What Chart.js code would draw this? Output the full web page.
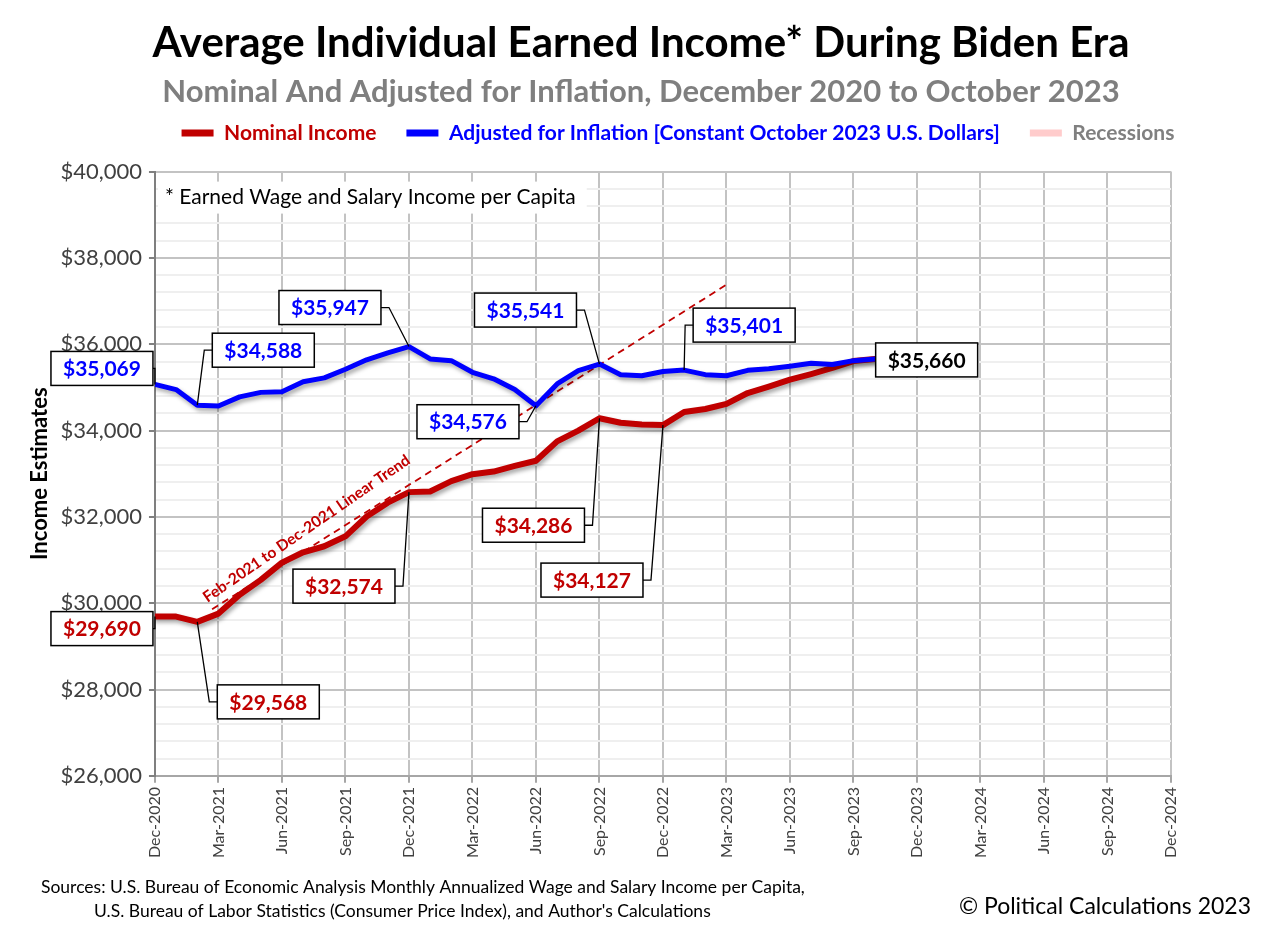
<!DOCTYPE html>
<html>
<head>
<meta charset="utf-8">
<script src="https://cdn.jsdelivr.net/npm/chart.js@4.4.0/dist/chart.umd.min.js"></script>
<style>
  html, body { margin: 0; padding: 0; background: #fff; }
</style>
</head>
<body>
<canvas id="chart" width="1280" height="930"></canvas>
<script>
// monthly data, Dec-2020 .. Oct-2023 (x = month index from Dec-2020)
const months = ['Dec-2020', 'Jan-2021', 'Feb-2021', 'Mar-2021', 'Apr-2021', 'May-2021', 'Jun-2021',
  'Jul-2021', 'Aug-2021', 'Sep-2021', 'Oct-2021', 'Nov-2021', 'Dec-2021', 'Jan-2022', 'Feb-2022',
  'Mar-2022', 'Apr-2022', 'May-2022', 'Jun-2022', 'Jul-2022', 'Aug-2022', 'Sep-2022', 'Oct-2022',
  'Nov-2022', 'Dec-2022', 'Jan-2023', 'Feb-2023', 'Mar-2023', 'Apr-2023', 'May-2023', 'Jun-2023',
  'Jul-2023', 'Aug-2023', 'Sep-2023', 'Oct-2023'];

const nominal = [29690, 29690, 29568, 29760, 30195, 30540, 30940, 31180, 31320, 31550, 32010, 32330,
  32574, 32590, 32830, 32990, 33050, 33180, 33300, 33750, 34000, 34286, 34180, 34140, 34127, 34430,
  34500, 34620, 34870, 35020, 35180, 35310, 35450, 35610, 35660];

const adjusted = [35069, 34950, 34588, 34570, 34780, 34885, 34900, 35130, 35220, 35420, 35640, 35800,
  35947, 35660, 35620, 35350, 35200, 34950, 34576, 35080, 35390, 35541, 35295, 35270, 35370, 35401,
  35295, 35270, 35395, 35430, 35490, 35560, 35530, 35620, 35660];

// Feb-2021 to Dec-2021 linear trend, extended (end points)
const trendX = [2.7, 27];
const trendY = [29860, 37380];

const tickLabels = ['Dec-2020', 'Mar-2021', 'Jun-2021', 'Sep-2021', 'Dec-2021', 'Mar-2022', 'Jun-2022',
  'Sep-2022', 'Dec-2022', 'Mar-2023', 'Jun-2023', 'Sep-2023', 'Dec-2023', 'Mar-2024', 'Jun-2024',
  'Sep-2024', 'Dec-2024'];

const RED = '#c00000';
const BLUE = '#0000ff';
const FONT = 'Lato, "Open Sans", sans-serif';
Chart.defaults.font.family = FONT;

// callout boxes: which series/point, box centre offset from the point, leader side
const callouts = [
  { s: 'adjusted', i: 0, dx: -53, dy: -16, side: 'right', elbow: 2, color: BLUE },
  { s: 'adjusted', i: 2, dx: 66, dy: -55, side: 'left', color: BLUE },
  { s: 'adjusted', i: 12, dx: -79, dy: -39, side: 'right', color: BLUE },
  { s: 'adjusted', i: 18, dx: -68, dy: 16, side: 'right', color: BLUE },
  { s: 'adjusted', i: 21, dx: -74, dy: -54, side: 'right', color: BLUE },
  { s: 'adjusted', i: 25, dx: 60, dy: -45, side: 'left', color: BLUE },
  { s: 'adjusted', i: 34, dx: 52, dy: 1, side: null, color: '#000' },
  { s: 'nominal', i: 0, dx: -53, dy: 12, side: 'right', elbow: 2, color: RED },
  { s: 'nominal', i: 2, dx: 71, dy: 80, side: 'left', color: RED },
  { s: 'nominal', i: 12, dx: -65, dy: 94, side: 'right', color: RED },
  { s: 'nominal', i: 21, dx: -66, dy: 107, side: 'right', color: RED },
  { s: 'nominal', i: 24, dx: -71, dy: 155, side: 'right', color: RED }
];
const series = { nominal, adjusted };

const toXY = arr => arr.map((v, i) => ({ x: i, y: v }));

const lineShadow = {
  id: 'lineShadow',
  beforeDatasetDraw(chart, args) {
    const ctx = chart.ctx;
    ctx.save();
    if (args.index < 2) {
      ctx.shadowColor = 'rgba(0,0,0,0.35)';
      ctx.shadowBlur = 4;
      ctx.shadowOffsetX = 2;
      ctx.shadowOffsetY = 3;
    }
  },
  afterDatasetDraw(chart) {
    chart.ctx.restore();
  }
};

// tighten the legend box and nudge it where the original has it
const legendTweak = {
  id: 'legendTweak',
  beforeInit(chart) {
    const fit = chart.legend.fit;
    chart.legend.fit = function () { fit.call(this); this.height -= 4; };
  },
  afterLayout(chart) {
    const lg = chart.legend;
    lg.left += 37; lg.right += 37;
    lg.top -= 22; lg.bottom -= 22;
  }
};

const extras = {
  id: 'extras',
  afterDatasetsDraw(chart) {
    const { ctx, scales: { x, y }, chartArea } = chart;
    ctx.save();

    // note box
    ctx.font = '21px ' + FONT;
    const note = '* Earned Wage and Salary Income per Capita';
    const nw = ctx.measureText(note).width;
    ctx.fillStyle = '#fff';
    ctx.fillRect(chartArea.left + 3, chartArea.top + 10, nw + 18, 32);
    ctx.fillStyle = '#000';
    ctx.textBaseline = 'middle';
    ctx.fillText(note, chartArea.left + 10, chartArea.top + 26);

    // trend label
    const p1x = x.getPixelForValue(trendX[0]), p1y = y.getPixelForValue(trendY[0]);
    const p2x = x.getPixelForValue(trendX[1]), p2y = y.getPixelForValue(trendY[1]);
    const ang = Math.atan2(p2y - p1y, p2x - p1x) - 0.04;
    ctx.save();
    ctx.translate(p1x - 3, p1y - 4);
    ctx.rotate(ang);
    ctx.font = 'bold 15.5px ' + FONT;
    ctx.fillStyle = RED;
    ctx.textBaseline = 'bottom';
    ctx.textAlign = 'left';
    ctx.fillText('Feb-2021 to Dec-2021 Linear Trend', 0, 0);
    ctx.restore();

    // callouts
    ctx.font = 'bold 21px ' + FONT;
    ctx.textAlign = 'center';
    ctx.textBaseline = 'middle';
    callouts.forEach(c => {
      const v = series[c.s][c.i];
      const px = x.getPixelForValue(c.i), py = y.getPixelForValue(v);
      const text = '$' + v.toLocaleString('en-US');
      const bw = ctx.measureText(text).width + 24, bh = 34;
      const cx = px + c.dx, cy = py + c.dy;
      const bx = cx - bw / 2, by = cy - bh / 2;
      if (c.side) {
        const el = c.elbow !== undefined ? c.elbow : 8;
        const ax = c.side === 'right' ? bx + bw : bx;
        const ex = c.side === 'right' ? ax + el : ax - el;
        ctx.strokeStyle = '#000';
        ctx.lineWidth = 1.3;
        ctx.beginPath();
        ctx.moveTo(ax, cy);
        ctx.lineTo(ex, cy);
        ctx.lineTo(px, py);
        ctx.stroke();
      }
      ctx.fillStyle = '#fff';
      ctx.fillRect(bx, by, bw, bh);
      ctx.strokeStyle = '#000';
      ctx.lineWidth = 1.5;
      ctx.strokeRect(bx, by, bw, bh);
      ctx.fillStyle = c.color;
      ctx.fillText(text, cx, cy + 1);
    });
    ctx.restore();
  },
  afterDraw(chart) {
    const ctx = chart.ctx;
    ctx.save();
    ctx.fillStyle = '#000';
    ctx.textBaseline = 'alphabetic';
    ctx.font = '17.5px ' + FONT;
    ctx.textAlign = 'left';
    ctx.fillText('Sources: U.S. Bureau of Economic Analysis Monthly Annualized Wage and Salary Income per Capita,', 41, 893);
    ctx.fillText("U.S. Bureau of Labor Statistics (Consumer Price Index), and Author's Calculations", 94, 917);
    ctx.font = '23px ' + FONT;
    ctx.textAlign = 'right';
    ctx.fillText('\u00A9 Political Calculations 2023', 1251, 914);
    ctx.restore();
  }
};

const config = {
  type: 'line',
  data: {
    datasets: [
      {
        label: 'Nominal Income',
        data: toXY(nominal),
        borderColor: RED,
        backgroundColor: RED,
        borderWidth: 6,
        pointRadius: 0,
        borderCapStyle: 'round',
        borderJoinStyle: 'round',
        order: 2
      },
      {
        label: 'Adjusted for Inflation [Constant October 2023 U.S. Dollars]',
        data: toXY(adjusted),
        borderColor: BLUE,
        backgroundColor: BLUE,
        borderWidth: 5,
        pointRadius: 0,
        borderCapStyle: 'round',
        borderJoinStyle: 'round',
        order: 1
      },
      {
        label: 'Recessions',
        data: [],
        borderColor: '#ffcccc',
        backgroundColor: '#ffcccc',
        order: 4
      },
      {
        label: 'Trend',
        data: trendX.map((v, i) => ({ x: v, y: trendY[i] })),
        borderColor: RED,
        borderWidth: 1.8,
        borderDash: [7, 5],
        pointRadius: 0,
        order: 3
      }
    ]
  },
  options: {
    responsive: false,
    animation: false,
    devicePixelRatio: 1,
    layout: { padding: { top: 10, left: 27, right: 25, bottom: 68 } },
    plugins: {
      title: {
        display: true,
        text: 'Average Individual Earned Income* During Biden Era',
        color: '#000',
        font: { size: 42, weight: 'bold' },
        padding: { top: 8, bottom: 1 }
      },
      subtitle: {
        display: true,
        text: 'Nominal And Adjusted for Inflation, December 2020 to October 2023',
        color: '#7f7f7f',
        font: { size: 31, weight: 'bold' },
        padding: { top: 4, bottom: 4 }
      },
      legend: {
        position: 'top',
        labels: {
          boxWidth: 32,
          boxHeight: 7,
          padding: 30,
          font: { size: 21, weight: 'bold' },
          generateLabels(chart) {
            const ds = chart.data.datasets;
            const colors = [RED, BLUE, '#808080'];
            return [0, 1, 2].map(i => ({
              text: ds[i].label,
              fillStyle: ds[i].borderColor,
              strokeStyle: ds[i].borderColor,
              lineWidth: 0,
              fontColor: colors[i],
              datasetIndex: i,
              hidden: false
            }));
          }
        }
      },
      tooltip: { enabled: false }
    },
    scales: {
      x: {
        type: 'linear',
        min: 0,
        max: 48,
        ticks: {
          stepSize: 3,
          autoSkip: false,
          maxRotation: 90,
          minRotation: 90,
          color: '#404040',
          font: { size: 16 },
          padding: 4,
          callback: v => tickLabels[v / 3]
        },
        grid: { color: '#c3c3c3', lineWidth: 2, tickLength: 7, tickColor: '#a6a6a6' },
        border: { color: '#a6a6a6', width: 2 }
      },
      y: {
        min: 26000,
        max: 40000,
        ticks: {
          stepSize: 400,
          autoSkip: false,
          color: '#404040',
          font: { size: 22 },
          padding: 7,
          callback: v => (v % 2000 === 0 ? '$' + v.toLocaleString('en-US') : '')
        },
        grid: {
          lineWidth: 2,
          tickLength: 6,
          color: c => (c.tick && c.tick.value % 2000 === 0 ? '#c3c3c3' : '#efefef'),
          tickColor: c => (c.tick && c.tick.value % 2000 === 0 ? '#808080' : 'rgba(0,0,0,0)')
        },
        border: { color: '#7f7f7f', width: 2 },
        title: {
          display: true,
          text: 'Income Estimates',
          color: '#000',
          font: { size: 22, weight: 'bold' },
          padding: { top: 0, bottom: 0 }
        }
      },
      // empty right-hand strip so the plot ends where the original does
      yRight: {
        type: 'linear',
        position: 'right',
        grid: { display: false, drawOnChartArea: false },
        ticks: { display: false },
        border: { display: false },
        afterFit(s) { s.width = 84; }
      }
    }
  },
  plugins: [lineShadow, legendTweak, extras]
};

new Chart(document.getElementById('chart').getContext('2d'), config);
</script>
</body>
</html>
